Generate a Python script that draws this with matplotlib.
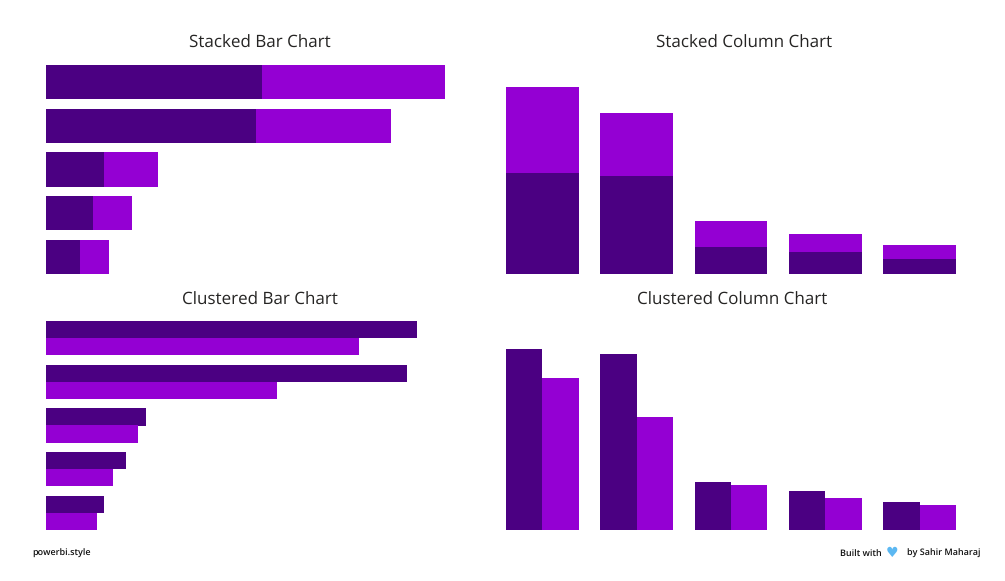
import matplotlib
matplotlib.use('Agg')
import matplotlib.pyplot as plt
import numpy as np

dark = '#4B0082'
light = '#9400D3'

# values in pixels of the original visual, same scale for each pair of charts
stacked_bar_a = [216, 210, 58, 47, 34]
stacked_bar_b = [183, 135, 54, 39, 29]
clustered_bar_a = [371, 361, 100, 80, 58]
clustered_bar_b = [313, 231, 92, 67, 51]
stacked_col_a = [101, 98, 27, 22, 15]
stacked_col_b = [86, 63, 26, 18, 14]
clustered_col_a = [181, 176, 48, 39, 28]
clustered_col_b = [152, 113, 45, 32, 25]

W, H = 1005, 581
plt.rcParams['font.family'] = ['Open Sans', 'DejaVu Sans']
plt.rcParams['text.hinting'] = 'no_hinting'
plt.rcParams['text.hinting_factor'] = 1


def add_axes(fig, left, top, right, bottom):
    ax = fig.add_axes([left / W, 1 - bottom / H, (right - left) / W, (bottom - top) / H])
    ax.axis('off')
    ax.margins(0)
    return ax


fig = plt.figure(figsize=(W / 100, H / 100), dpi=100)

y = np.arange(5)

ax = add_axes(fig, 46, 60.1, 478, 278.9)
ax.barh(y, stacked_bar_a, height=0.777, color=dark)
ax.barh(y, stacked_bar_b, height=0.777, left=stacked_bar_a, color=light)
ax.set_xlim(0, 432)
ax.set_ylim(4.5, -0.5)

ax = add_axes(fig, 46, 316.1, 478, 534.9)
ax.barh(y - 0.194, clustered_bar_a, height=0.389, color=dark)
ax.barh(y + 0.194, clustered_bar_b, height=0.389, color=light)
ax.set_xlim(0, 432)
ax.set_ylim(4.5, -0.5)

x = np.arange(5)

ax = add_axes(fig, 506, 61, 956, 274)
ax.bar(x, stacked_col_a, width=0.77, color=dark)
ax.bar(x, stacked_col_b, width=0.77, bottom=stacked_col_a, color=light)
ax.set_xlim(-0.385, 4.385)
ax.set_ylim(0, 213)

ax = add_axes(fig, 506, 317, 956, 530)
ax.bar(x - 0.1925, clustered_col_a, width=0.385, color=dark)
ax.bar(x + 0.1925, clustered_col_b, width=0.385, color=light)
ax.set_xlim(-0.385, 4.385)
ax.set_ylim(0, 213)

title_color = '#252423'
fig.text(260 / W, 1 - 43 / H, 'Stacked Bar Chart', ha='center', va='center', fontsize=12.1, color=title_color)
fig.text(744.5 / W, 1 - 43 / H, 'Stacked Column Chart', ha='center', va='center', fontsize=12.1, color=title_color)
fig.text(260 / W, 1 - 300 / H, 'Clustered Bar Chart', ha='center', va='center', fontsize=12.1, color=title_color)
fig.text(732 / W, 1 - 300 / H, 'Clustered Column Chart', ha='center', va='center', fontsize=12.1, color=title_color)

fig.text(32 / W, 1 - 554 / H, 'powerbi.style', ha='left', va='center', fontsize=6.8, color='#111111', fontweight='semibold')
fig.text(840 / W, 1 - 554 / H, 'Built with', ha='left', va='center', fontsize=6.8, color='#111111', fontweight='semibold')
# no installed font has the blue heart emoji, so use the plain heart sign in blue
fig.text(892.5 / W, 1 - 553 / H, '\u2665', ha='center', va='center', fontsize=10, color='#5CB8F2', family='DejaVu Sans')
fig.text(980 / W, 1 - 554 / H, 'by Sahir Maharaj', ha='right', va='center', fontsize=6.8, color='#111111', fontweight='semibold')

fig.savefig('out.png', dpi=100)
